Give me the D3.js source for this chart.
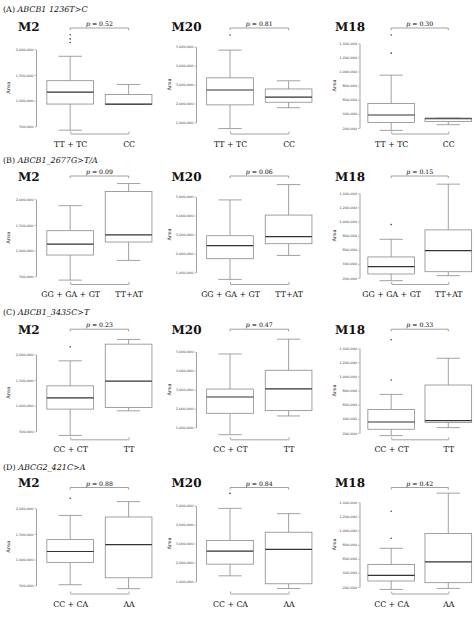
<!DOCTYPE html>
<html><head><meta charset="utf-8">
<script src="https://cdn.jsdelivr.net/npm/d3@7"></script>
<style>body{margin:0;background:#fff}svg{display:block}text{text-rendering:geometricPrecision}</style>
</head><body><svg id="c" width="474" height="617"></svg>
<script>
// ---------- DATA ----------
const rowLetters = ["(A)", "(B)", "(C)", "(D)"];
const snpLabels = ["ABCB1 1236T>C", "ABCB1_2677G>T/A", "ABCB1_3435C>T", "ABCG2_421C>A"];
const panelNames = ["M2", "M20", "M18"];
const groupLabels = [
  ["TT + TC", "CC"],
  ["GG + GA + GT", "TT+AT"],
  ["CC + CT", "TT"],
  ["CC + CA", "AA"]
];
const pValues = [
  [0.52, 0.81, 0.30],
  [0.09, 0.06, 0.15],
  [0.23, 0.47, 0.33],
  [0.88, 0.84, 0.42]
];
const yTicksM2 = [500000, 1000000, 1500000, 2000000];
const yTicksM20 = [1000000, 2000000, 3000000, 4000000, 5000000];
const yTicksM18 = [200000, 400000, 600000, 800000, 1000000, 1200000, 1400000];

// box stats per panel [M2, M20, M18], per group: [lowWhisker, q1, median, q3, highWhisker]
const boxStatsA = [
  [[427000, 934000, 1165000, 1388000, 1862000], [930000, 930000, 932000, 1118000, 1315000]],
  [[680000, 1930000, 2714000, 3357000, 4820000], [1780000, 2070000, 2340000, 2770000, 3200000]],
  [[166000, 279000, 384000, 547000, 948000], [247000, 294000, 331000, 341000, 341000]]
];
const outliersA = [
  [[2280000, 2200000, 2130000], []],
  [[5620000], []],
  [[1517000, 1259000], []]
];
const boxStatsB = [
  [[428000, 915000, 1129000, 1388000, 1875000], [811000, 1168000, 1305000, 2148000, 2304000]],
  [[636000, 1727000, 2420000, 2940000, 4830000], [1900000, 2520000, 2890000, 4030000, 5640000]],
  [[162000, 257000, 360000, 498000, 748000], [233000, 289000, 587000, 881000, 1528000]]
];
const outliersB = [
  [[], []],
  [[], []],
  [[956000], []]
];
const boxStatsC = [
  [[422000, 933000, 1152000, 1385000, 1871000], [900000, 966000, 1477000, 2195000, 2286000]],
  [[620000, 1750000, 2610000, 3030000, 4880000], [1610000, 1890000, 3040000, 4020000, 5660000]],
  [[163000, 253000, 356000, 532000, 746000], [276000, 348000, 376000, 879000, 1258000]]
];
const outliersC = [
  [[2143000], []],
  [[], []],
  [[1519000, 950000], []]
];
const boxStatsD = [
  [[513000, 948000, 1159000, 1389000, 1860000], [437000, 648000, 1293000, 1829000, 2128000]],
  [[1300000, 1916000, 2600000, 3160000, 4860000], [630000, 880000, 2700000, 3600000, 4580000]],
  [[166000, 285000, 365000, 520000, 748000], [180000, 261000, 555000, 956000, 1528000]]
];
const outliersD = [
  [[2193000], []],
  [[5650000], []],
  [[1272000, 889000], []]
];

const boxStats = [boxStatsA, boxStatsB, boxStatsC, boxStatsD];
const outliers = [outliersA, outliersB, outliersC, outliersD];
const yTicks = [yTicksM2, yTicksM20, yTicksM18];

// ---------- LAYOUT ----------
const rowY = [0, 150, 305, 459];
const rowTitleY = [12, 163, 314.5, 470];
const panelTitleY = [31, 30.7, 29, 27.7];
const bracketY = [28, 26, 24.2, 28.5];
const xAxisY = [133.5, 134, 134.3, 134.5];
const cols = [
  {axisX: 36, centers: [70.2, 128.6], yTop: 49.2, yBottom: 126.4, titleX: 18, areaX: 8},
  {axisX: 196, centers: [230, 288.6], yTop: 46.7, yBottom: 122.5, titleX: 171.5, areaX: 169.5},
  {axisX: 359.5, centers: [391.2, 448.3], yTop: 43.2, yBottom: 128, titleX: 335, areaX: 334}
];
const boxW = 46.7;
const F = "'DejaVu Serif', serif";
const lineCol = "#8a8a8a";

const svg = d3.select("#c");

// row titles
rowLetters.forEach((l, r) => {
  const t = svg.append("text").attr("x", 3).attr("y", rowTitleY[r])
    .attr("font-family", F).attr("font-size", 8).attr("fill", "#111");
  t.append("tspan").text(l + " ");
  t.append("tspan").attr("font-style", "italic").text(snpLabels[r]);
});

for (let r = 0; r < 4; r++) {
  for (let c = 0; c < 3; c++) {
    const L = cols[c];
    const g = svg.append("g").attr("transform", `translate(0,${rowY[r]})`);
    const ticks = yTicks[c];
    const y = d3.scaleLinear().domain([ticks[0], ticks[ticks.length - 1]]).range([L.yBottom, L.yTop]);
    const x = d3.scalePoint().domain(groupLabels[r]).range(L.centers);

    // panel title
    g.append("text").attr("x", L.titleX).attr("y", panelTitleY[r])
      .attr("font-family", F).attr("font-weight", "bold").attr("font-size", 12)
      .attr("fill", "#111").text(panelNames[c]);

    // y axis
    const ya = g.append("g").attr("transform", `translate(${L.axisX},0)`)
      .call(d3.axisLeft(y).tickValues(ticks).tickSize(1.5).tickSizeOuter(0).tickPadding(1).tickFormat(d3.format(",")));
    ya.select(".domain").attr("stroke", lineCol).attr("stroke-width", 0.8);
    ya.selectAll(".tick line").attr("stroke", lineCol).attr("stroke-width", 0.6);
    ya.selectAll("text").attr("font-family", F).attr("font-size", 3.5).attr("fill", "#333");

    // y label
    g.append("text").attr("transform", `translate(${L.areaX},${(L.yTop + L.yBottom) / 2}) rotate(-90)`)
      .attr("text-anchor", "middle").attr("dy", "0.35em")
      .attr("font-family", F).attr("font-size", 5).attr("fill", "#222").text("Area");

    // x axis (bottom)
    const xa = g.append("g").attr("transform", `translate(0,${xAxisY[r]})`)
      .call(d3.axisBottom(x).tickSize(-2).tickSizeOuter(0).tickPadding(7.6));
    xa.select(".domain").attr("stroke", lineCol).attr("stroke-width", 0.8);
    xa.selectAll(".tick line").attr("stroke", lineCol).attr("stroke-width", 0.8);
    xa.selectAll("text").attr("font-family", F).attr("font-size", 7.8).attr("fill", "#111");

    // boxes
    const st = boxStats[r][c];
    groupLabels[r].forEach((gl, i) => {
      const [lo, q1, med, q3, hi] = st[i];
      const cx = x(gl);
      const bg = g.append("g");
      bg.append("line").attr("x1", cx).attr("x2", cx).attr("y1", y(q3)).attr("y2", y(hi))
        .attr("stroke", lineCol).attr("stroke-width", 0.8);
      bg.append("line").attr("x1", cx).attr("x2", cx).attr("y1", y(q1)).attr("y2", y(lo))
        .attr("stroke", lineCol).attr("stroke-width", 0.8);
      [lo, hi].forEach(v => bg.append("line").attr("x1", cx - boxW / 4).attr("x2", cx + boxW / 4)
        .attr("y1", y(v)).attr("y2", y(v)).attr("stroke", lineCol).attr("stroke-width", 0.8));
      bg.append("rect").attr("x", cx - boxW / 2).attr("width", boxW)
        .attr("y", y(q3)).attr("height", y(q1) - y(q3))
        .attr("fill", "#fff").attr("stroke", lineCol).attr("stroke-width", 0.8);
      bg.append("line").attr("x1", cx - boxW / 2).attr("x2", cx + boxW / 2)
        .attr("y1", y(med)).attr("y2", y(med)).attr("stroke", "#333").attr("stroke-width", 1.2);
      outliers[r][c][i].forEach(v => bg.append("circle").attr("cx", cx).attr("cy", y(v))
        .attr("r", 0.8).attr("fill", "#444"));
    });

    // significance bracket
    const bx0 = L.centers[0], bx1 = L.centers[1], by = bracketY[r];
    g.append("path").attr("d", `M${bx0},${by + 2.2}V${by}H${bx1}V${by + 2.2}`)
      .attr("fill", "none").attr("stroke", lineCol).attr("stroke-width", 0.8);
    const pt = g.append("text").attr("x", (bx0 + bx1) / 2).attr("y", by - 2)
      .attr("text-anchor", "middle").attr("font-family", F).attr("font-size", 6.2).attr("fill", "#000");
    pt.append("tspan").attr("font-style", "italic").attr("fill", "#000").text("p");
    pt.append("tspan").attr("fill", "#000").text(" = " + pValues[r][c].toFixed(2));
  }
}
</script>
</body></html>
